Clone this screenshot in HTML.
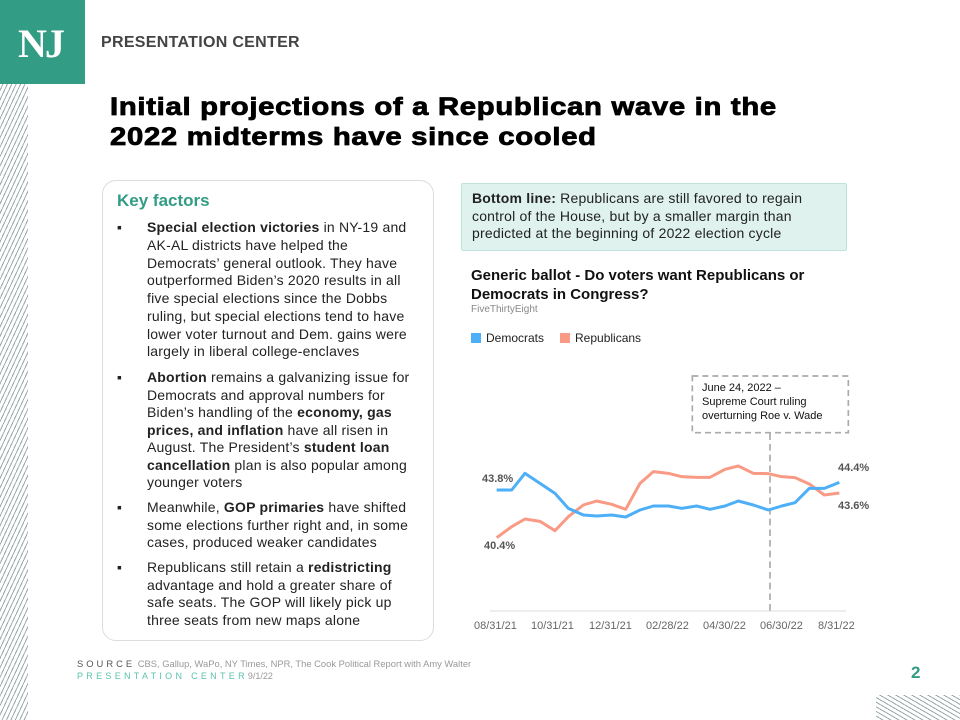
<!DOCTYPE html>
<html><head><meta charset="utf-8"><style>
body{margin:0;width:960px;height:720px;position:relative;background:#fff;font-family:"Liberation Sans",Arial,sans-serif;overflow:hidden}
.a{position:absolute;white-space:nowrap}
.t{font-size:14px;color:#222;line-height:17px;letter-spacing:0.2px}
.hatch{position:absolute;background:repeating-linear-gradient(-65deg,#fff 0 3px,#9aa9ad 3px 4px)}
</style></head><body>
<div class="hatch" style="left:0;top:84px;width:28px;height:636px"></div>
<div class="hatch" style="left:876px;top:695px;width:84px;height:25px;background:repeating-linear-gradient(30deg,#fff 0 3px,#9aa9ad 3px 4px)"></div>
<div class="a" style="left:0;top:0;width:85px;height:84px;background:#339c85"></div>
<div class="a" style="left:18px;top:20px;font-family:'Liberation Serif',serif;font-weight:bold;font-size:40px;color:#fff;letter-spacing:-2px">NJ</div>
<div class="a" style="left:101px;top:34px;font-size:16px;font-weight:bold;color:#444;letter-spacing:0.3px">PRESENTATION CENTER</div>
<div class="a" style="left:110px;top:92px;font-size:25px;font-weight:900;color:#000;line-height:30px;letter-spacing:0.6px;-webkit-text-stroke:0.8px #000;transform:scaleX(1.17);transform-origin:left top">Initial projections of a Republican wave in the<br>2022 midterms have since cooled</div>

<div class="a" style="left:102px;top:180px;width:330px;height:459px;border:1px solid #ddd;border-radius:14px"></div>
<div class="a" style="left:117px;top:191px;font-size:17px;font-weight:bold;color:#339c85">Key factors</div>
<div class="a t" style="left:117px;top:219px">▪</div>
<div class="a t" style="left:147px;top:219px"><b>Special election victories</b> in NY-19 and</div>
<div class="a t" style="left:147px;top:237px;line-height:17.7px">AK-AL districts have helped the<br>Democrats’ general outlook. They have<br>outperformed Biden’s 2020 results in all<br>five special elections since the Dobbs<br>ruling, but special elections tend to have<br>lower voter turnout and Dem. gains were<br>largely in liberal college-enclaves</div>
<div class="a t" style="left:117px;top:369px">▪</div>
<div class="a t" style="left:147px;top:369px;line-height:17.5px"><b>Abortion</b> remains a galvanizing issue for<br>Democrats and approval numbers for<br>Biden’s handling of the <b>economy, gas<br>prices, and inflation</b> have all risen in<br>August. The President’s <b>student loan<br>cancellation</b> plan is also popular among<br>younger voters</div>
<div class="a t" style="left:117px;top:499px">▪</div>
<div class="a t" style="left:147px;top:499px;line-height:17.5px">Meanwhile, <b>GOP primaries</b> have shifted<br>some elections further right and, in some<br>cases, produced weaker candidates</div>
<div class="a t" style="left:117px;top:559px">▪</div>
<div class="a t" style="left:147px;top:559px;line-height:17.7px">Republicans still retain a <b>redistricting</b><br>advantage and hold a greater share of<br>safe seats. The GOP will likely pick up<br>three seats from new maps alone</div>

<div class="a" style="left:461px;top:183px;width:384px;height:66px;background:#dff2ee;border:1px solid #bfe3da;border-radius:2px"></div>
<div class="a t" style="left:472px;top:190px;line-height:17.5px"><b>Bottom line:</b> Republicans are still favored to regain<br>control of the House, but by a smaller margin than<br>predicted at the beginning of 2022 election cycle</div>
<div class="a" style="left:471px;top:266px;font-size:15px;font-weight:bold;color:#111;line-height:19px">Generic ballot - Do voters want Republicans or<br>Democrats in Congress?</div>
<div class="a" style="left:471px;top:304px;font-size:10px;color:#888">FiveThirtyEight</div>
<div class="a" style="left:471px;top:333px;width:10px;height:10px;background:#4daff7"></div>
<div class="a" style="left:486px;top:331px;font-size:12px;color:#222">Democrats</div>
<div class="a" style="left:560px;top:333px;width:10px;height:10px;background:#f99a85"></div>
<div class="a" style="left:575px;top:331px;font-size:12px;color:#222">Republicans</div>

<svg class="a" style="left:460px;top:370px" width="400" height="270" viewBox="0 0 1200 810">
<line x1="90" y1="723" x2="1158" y2="723" stroke="#ddd" stroke-width="3"/>
<rect x="697" y="18" width="468" height="170" fill="none" stroke="#aaa" stroke-width="5" stroke-dasharray="18 12"/>
<line x1="930" y1="190" x2="930" y2="723" stroke="#aaa" stroke-width="5" stroke-dasharray="20 12"/>
<polyline fill="none" stroke="#f99a85" stroke-width="9" stroke-linejoin="round" points="110,503 155,470 195,447 240,454 285,482 325,440 370,405 410,393 455,403 497,418 540,340 580,305 625,310 665,320 710,322 750,322 795,298 835,288 880,310 925,311 965,320 1005,323 1048,342 1093,375 1138,369"/>
<polyline fill="none" stroke="#4daff7" stroke-width="9" stroke-linejoin="round" points="110,360 155,360 195,310 240,340 285,370 325,415 370,435 410,438 455,435 497,441 540,420 580,408 625,408 665,415 710,408 750,418 795,408 835,393 880,405 925,420 965,408 1005,398 1048,355 1093,355 1138,337"/>
</svg>
<div class="a" style="left:702px;top:381px;font-size:11px;color:#111;line-height:14px">June 24, 2022 –<br>Supreme Court ruling<br>overturning Roe v. Wade</div>
<div class="a" style="left:482px;top:473px;font-size:11px;font-weight:bold;color:#555">43.8%</div>
<div class="a" style="left:484px;top:540px;font-size:11px;font-weight:bold;color:#555">40.4%</div>
<div class="a" style="left:838px;top:462px;font-size:11px;font-weight:bold;color:#555">44.4%</div>
<div class="a" style="left:838px;top:500px;font-size:11px;font-weight:bold;color:#555">43.6%</div>
<div class="a" style="left:474px;top:620px;font-size:11px;color:#666">08/31/21</div>
<div class="a" style="left:531px;top:620px;font-size:11px;color:#666">10/31/21</div>
<div class="a" style="left:589px;top:620px;font-size:11px;color:#666">12/31/21</div>
<div class="a" style="left:646px;top:620px;font-size:11px;color:#666">02/28/22</div>
<div class="a" style="left:703px;top:620px;font-size:11px;color:#666">04/30/22</div>
<div class="a" style="left:760px;top:620px;font-size:11px;color:#666">06/30/22</div>
<div class="a" style="left:818px;top:620px;font-size:11px;color:#666">8/31/22</div>

<div class="a" style="left:77px;top:658px;font-size:9.4px;color:#999"><span style="color:#555;letter-spacing:3px">SOURCE</span> CBS, Gallup, WaPo, NY Times, NPR, The Cook Political Report with Amy Walter</div>
<div class="a" style="left:77px;top:671px;font-size:9px;color:#999"><span style="color:#5cc3ad;letter-spacing:3.3px">PRESENTATION CENTER</span>9/1/22</div>
<div class="a" style="left:911px;top:663px;font-size:17px;font-weight:bold;color:#339c85">2</div>
</body></html>
